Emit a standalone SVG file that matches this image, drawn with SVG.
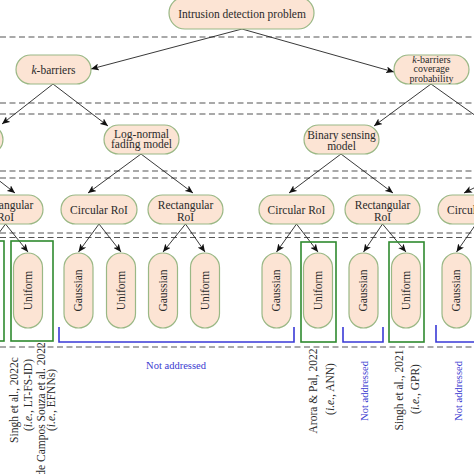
<svg xmlns="http://www.w3.org/2000/svg" width="474" height="474" viewBox="0 0 474 474">
<defs>
<marker id="ah" markerUnits="userSpaceOnUse" markerWidth="9" markerHeight="7" refX="8" refY="3.5" orient="auto">
<path d="M0,0 L8,3.5 L0,7 L2,3.5 z" fill="#111"/>
</marker>
<style>
.nd{fill:#fce4d4;stroke:#9ab885;stroke-width:1.2}
.t{font-family:"Liberation Serif","Times New Roman",serif;font-size:11.5px;fill:#2a2a2a;text-anchor:middle}
.s{font-family:"Liberation Serif","Times New Roman",serif;font-size:10px;fill:#2a2a2a;text-anchor:middle}
.c{font-family:"Liberation Serif","Times New Roman",serif;font-size:11.5px;fill:#2a2a2a;text-anchor:middle}
.na{font-family:"Liberation Serif","Times New Roman",serif;font-size:10.5px;fill:#3a3ad0;text-anchor:middle}
.dl{stroke:#555;stroke-width:1.2;stroke-dasharray:6 3.5;fill:none}
.cn line{stroke:#222;stroke-width:0.9;marker-end:url(#ah)}
.gr{fill:none;stroke:#2f8a2f;stroke-width:1.6}
.bl{fill:none;stroke:#3a3ad6;stroke-width:1.6}
</style>
</defs>
<rect width="474" height="474" fill="#fff"/>
<g id="separators">
<line class="dl" x1="0" y1="37" x2="474" y2="37"/>
<line class="dl" x1="0" y1="103" x2="474" y2="103"/>
<line class="dl" x1="0" y1="114" x2="474" y2="114"/>
<line class="dl" x1="0" y1="171" x2="474" y2="171"/>
<line class="dl" x1="0" y1="178" x2="474" y2="178"/>
<line class="dl" x1="0" y1="233" x2="474" y2="233"/>
<line class="dl" x1="0" y1="237.5" x2="474" y2="237.5"/>
<line class="dl" x1="0" y1="347" x2="474" y2="347"/>
</g>
<g id="connectors" class="cn">
<line x1="242" y1="29" x2="91" y2="69"/>
<line x1="242" y1="29" x2="394" y2="72"/>
<line x1="53" y1="84" x2="2" y2="124"/>
<line x1="53" y1="84" x2="108" y2="126"/>
<line x1="431" y1="84" x2="374" y2="126"/>
<line x1="431" y1="84" x2="490" y2="126"/>
<line x1="-35" y1="154" x2="15" y2="193"/>
<line x1="141" y1="154" x2="88" y2="193"/>
<line x1="141" y1="154" x2="193" y2="193"/>
<line x1="341" y1="154" x2="289" y2="193"/>
<line x1="341" y1="154" x2="393" y2="193"/>
<line x1="541" y1="154" x2="464" y2="193"/>
<line x1="5.5" y1="224" x2="-15" y2="252"/>
<line x1="5.5" y1="224" x2="28" y2="252"/>
<line x1="99" y1="224" x2="78.5" y2="252"/>
<line x1="99" y1="224" x2="121" y2="252"/>
<line x1="185.5" y1="224" x2="163" y2="252"/>
<line x1="185.5" y1="224" x2="205" y2="252"/>
<line x1="296.5" y1="224" x2="276.5" y2="252"/>
<line x1="296.5" y1="224" x2="318" y2="252"/>
<line x1="382.5" y1="224" x2="363.5" y2="252"/>
<line x1="382.5" y1="224" x2="406" y2="252"/>
<line x1="476" y1="224" x2="456.5" y2="252"/>
</g>
<g id="n-root"><rect class="nd" x="169" y="-3" width="145" height="32" rx="16"/><text class="t" x="242" y="17.5">Intrusion detection problem</text></g>
<g id="n-kbarriers"><rect class="nd" x="16" y="55" width="75" height="29" rx="14.5"/><text class="t" x="53.5" y="73.5"><tspan font-style="italic">k</tspan>-barriers</text></g>
<g id="n-kbcp"><rect class="nd" x="394" y="55" width="75" height="29" rx="14.5"/><text class="s" x="431.5" y="62.5"><tspan font-style="italic">k</tspan>-barriers</text><text class="s" x="431.5" y="72">coverage</text><text class="s" x="431.5" y="81.5">probability</text></g>
<g id="n-left2"><rect class="nd" x="-72" y="125" width="75" height="29" rx="14.5"/></g>
<g id="n-lognormal"><rect class="nd" x="104" y="125" width="75" height="29" rx="14.5"/><text class="t" x="141.5" y="137.5">Log-normal</text><text class="t" x="141.5" y="148">fading model</text></g>
<g id="n-binary"><rect class="nd" x="304" y="125" width="75" height="29" rx="14.5"/><text class="t" x="341.5" y="139">Binary sensing</text><text class="t" x="341.5" y="149.5">model</text></g>
<g id="n-rect0"><rect class="nd" x="-32" y="195" width="75" height="29" rx="14.5"/><text class="t" x="5.5" y="209">Rectangular</text><text class="t" x="5.5" y="220.5">RoI</text></g>
<g id="n-circ1"><rect class="nd" x="61" y="195" width="76" height="29" rx="14.5"/><text class="t" x="99" y="213.5">Circular RoI</text></g>
<g id="n-rect1"><rect class="nd" x="148" y="195" width="75" height="29" rx="14.5"/><text class="t" x="185.5" y="209">Rectangular</text><text class="t" x="185.5" y="220.5">RoI</text></g>
<g id="n-circ2"><rect class="nd" x="259" y="195" width="75" height="29" rx="14.5"/><text class="t" x="296.5" y="213.5">Circular RoI</text></g>
<g id="n-rect2"><rect class="nd" x="345" y="195" width="75" height="29" rx="14.5"/><text class="t" x="382.5" y="209">Rectangular</text><text class="t" x="382.5" y="220.5">RoI</text></g>
<g id="n-circ3"><rect class="nd" x="438" y="195" width="76" height="29" rx="14.5"/><text class="t" x="476" y="213.5">Circular RoI</text></g>
<g id="n-u0"><rect class="nd" x="13.5" y="253" width="29" height="75" rx="14.5"/><text class="t" transform="translate(31.8,290.5) rotate(-90)">Uniform</text></g>
<g id="n-g1"><rect class="nd" x="64" y="253" width="29" height="75" rx="14.5"/><text class="t" transform="translate(82.3,290.5) rotate(-90)">Gaussian</text></g>
<g id="n-u1"><rect class="nd" x="106.5" y="253" width="29" height="75" rx="14.5"/><text class="t" transform="translate(124.8,290.5) rotate(-90)">Uniform</text></g>
<g id="n-g2"><rect class="nd" x="148.5" y="253" width="29" height="75" rx="14.5"/><text class="t" transform="translate(166.8,290.5) rotate(-90)">Gaussian</text></g>
<g id="n-u2"><rect class="nd" x="190.5" y="253" width="29" height="75" rx="14.5"/><text class="t" transform="translate(208.8,290.5) rotate(-90)">Uniform</text></g>
<g id="n-g3"><rect class="nd" x="262" y="253" width="29" height="75" rx="14.5"/><text class="t" transform="translate(280.3,290.5) rotate(-90)">Gaussian</text></g>
<g id="n-u3"><rect class="nd" x="303.5" y="253" width="29" height="75" rx="14.5"/><text class="t" transform="translate(321.8,290.5) rotate(-90)">Uniform</text></g>
<g id="n-g4"><rect class="nd" x="349" y="253" width="29" height="75" rx="14.5"/><text class="t" transform="translate(367.3,290.5) rotate(-90)">Gaussian</text></g>
<g id="n-u4"><rect class="nd" x="391.5" y="253" width="29" height="75" rx="14.5"/><text class="t" transform="translate(409.8,290.5) rotate(-90)">Uniform</text></g>
<g id="n-g5"><rect class="nd" x="442" y="253" width="29" height="75" rx="14.5"/><text class="t" transform="translate(460.3,290.5) rotate(-90)">Gaussian</text></g>
<g id="highlights">
<rect class="gr" x="-40" y="241" width="44" height="100"/>
<rect class="gr" x="11" y="241" width="42" height="100"/>
<rect class="gr" x="301" y="242" width="35" height="100"/>
<rect class="gr" x="389" y="242" width="35" height="100"/>
<path class="bl" d="M59,327 V342 H294 V327"/>
<path class="bl" d="M343,327 V342 H383 V327"/>
<path class="bl" d="M436,325 V342 H480"/>
</g>
<g id="labels">
<text class="c" transform="translate(18,400) rotate(-90)">Singh et al., 2022c</text>
<text class="c" transform="translate(31.5,395) rotate(-90)">(<tspan font-style="italic">i.e.</tspan>, LT-FS-ID)</text>
<text class="c" transform="translate(45,409) rotate(-90)">de Campos Souza et al. 2022</text>
<text class="c" transform="translate(55,400) rotate(-90)">(<tspan font-style="italic">i.e.</tspan>, EFNNs)</text>
<text class="na" x="176" y="368.5">Not addressed</text>
<text class="c" transform="translate(317,391) rotate(-90)">Arora &amp; Pal, 2022</text>
<text class="c" transform="translate(334,389) rotate(-90)">(<tspan font-style="italic">i.e.</tspan>, ANN)</text>
<text class="na" transform="translate(367.5,391) rotate(-90)">Not addressed</text>
<text class="c" transform="translate(403,390) rotate(-90)">Singh et al., 2021</text>
<text class="c" transform="translate(419,389) rotate(-90)">(<tspan font-style="italic">i.e.</tspan>, GPR)</text>
<text class="na" transform="translate(461.5,391) rotate(-90)">Not addressed</text>
</g>
</svg>
